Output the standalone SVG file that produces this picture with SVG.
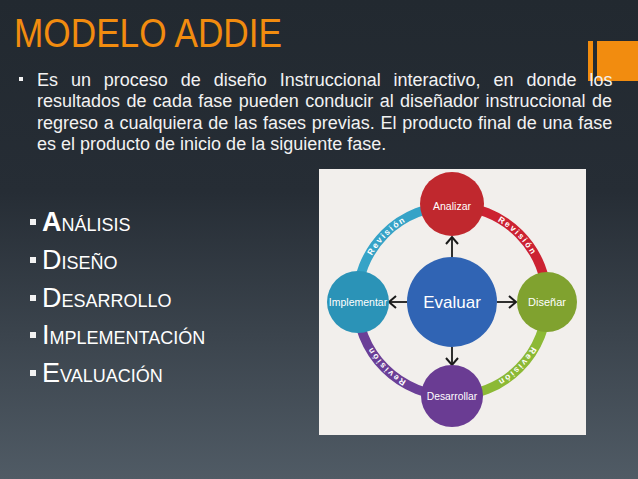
<svg xmlns="http://www.w3.org/2000/svg" width="638" height="479" viewBox="0 0 638 479">
<defs>
<linearGradient id="bg" x1="0" y1="0" x2="0" y2="1">
<stop offset="0" stop-color="#222930"/>
<stop offset="0.4" stop-color="#262d35"/>
<stop offset="1" stop-color="#505b65"/>
</linearGradient>
<marker id="chev" markerUnits="userSpaceOnUse" markerWidth="12" markerHeight="14" refX="8" refY="7" orient="auto">
<path d="M1,1 L8,7 L1,13" fill="none" stroke="#1a1a1a" stroke-width="2"/>
</marker>
<path id="ring" d="M357,301 A95,95 0 1 1 547,301 A95,95 0 1 1 357,301"/>
</defs>
<style>
.title{font-family:"Liberation Sans",Arial,sans-serif;font-size:41px;fill:#f28c0f}
.para{font-family:"Liberation Sans",Arial,sans-serif;font-size:18px;fill:#f2f2f2}
.item{font-family:"Liberation Sans",Arial,sans-serif;fill:#ffffff}
.big{font-size:27px}
.sm{font-size:18px}
.bul{fill:#f2f2f2}
.arc{fill:none;stroke-width:9.5}
.rev{font-family:"Liberation Sans",Arial,sans-serif;font-size:8.5px;font-weight:bold;fill:#ffffff;letter-spacing:2px}
.lbl{font-family:"Liberation Sans",Arial,sans-serif;font-size:10.5px;fill:#ffffff;text-anchor:middle}
.conn{stroke:#1a1a1a;stroke-width:1.8;fill:none;marker-end:url(#chev)}
</style>
<rect x="0" y="0" width="638" height="479" fill="url(#bg)"/>
<text class="title" x="14" y="47" textLength="268" lengthAdjust="spacingAndGlyphs">MODELO ADDIE</text>
<rect x="588" y="41" width="5" height="40" fill="#f28c0f"/>
<rect x="597" y="41" width="41" height="40" fill="#f28c0f"/>
<rect x="19" y="77" width="4" height="4" class="bul"/>
<text class="para" x="37" y="86" word-spacing="7.9">Es un proceso de diseño Instruccional interactivo, en donde los</text>
<text class="para" x="37" y="107" word-spacing="1.4">resultados de cada fase pueden conducir al diseñador instruccional de</text>
<text class="para" x="37" y="129" word-spacing="0.75">regreso a cualquiera de las fases previas. El producto final de una fase</text>
<text class="para" x="37" y="150">es el producto de inicio de la siguiente fase.</text>
<g id="list">
<rect x="30" y="219" width="6" height="6" class="bul"/>
<text class="item" x="42" y="231"><tspan class="big" font-weight="bold">A</tspan><tspan class="sm">NÁLISIS</tspan></text>
<rect x="30" y="257" width="6" height="6" class="bul"/>
<text class="item" x="42" y="269"><tspan class="big">D</tspan><tspan class="sm">ISEÑO</tspan></text>
<rect x="30" y="295" width="6" height="6" class="bul"/>
<text class="item" x="42" y="307"><tspan class="big">D</tspan><tspan class="sm">ESARROLLO</tspan></text>
<rect x="30" y="332" width="6" height="6" class="bul"/>
<text class="item" x="42" y="344"><tspan class="big">I</tspan><tspan class="sm">MPLEMENTACIÓN</tspan></text>
<rect x="30" y="370" width="6" height="6" class="bul"/>
<text class="item" x="42" y="382"><tspan class="big">E</tspan><tspan class="sm">VALUACIÓN</tspan></text>
</g>
<rect x="319" y="169" width="267" height="266" fill="#f2efec"/>
<g id="ring-arcs">
<path class="arc" stroke="#36a3c7" d="M357,301 A95,95 0 0 1 452,206"/>
<path class="arc" stroke="#cc2232" d="M452,206 A95,95 0 0 1 547,301"/>
<path class="arc" stroke="#8cb935" d="M547,301 A95,95 0 0 1 452,396"/>
<path class="arc" stroke="#6b3f97" d="M452,396 A95,95 0 0 1 357,301"/>
<text class="rev" dy="3"><textPath href="#ring" startOffset="74.6" text-anchor="middle">Revisión</textPath></text>
<text class="rev" dy="3"><textPath href="#ring" startOffset="223.8" text-anchor="middle">Revisión</textPath></text>
<text class="rev" dy="3"><textPath href="#ring" startOffset="373" text-anchor="middle">Revisión</textPath></text>
<text class="rev" dy="3"><textPath href="#ring" startOffset="522.2" text-anchor="middle">Revisión</textPath></text>
</g>
<g id="connectors">
<line class="conn" x1="452" y1="257" x2="452" y2="237"/>
<line class="conn" x1="407" y1="302" x2="389" y2="302"/>
<line class="conn" x1="497" y1="302" x2="516" y2="302"/>
<line class="conn" x1="452" y1="347" x2="452" y2="365"/>
</g>
<g id="analizar">
<circle cx="452" cy="204" r="32" fill="#c0282e"/>
<text class="lbl" x="452" y="210">Analizar</text>
</g>
<g id="implementar">
<circle cx="358" cy="302" r="31" fill="#2b93b7"/>
<text class="lbl" x="358" y="306" font-size="10">Implementar</text>
</g>
<g id="evaluar">
<circle cx="452" cy="302" r="45" fill="#3064b4"/>
<text class="lbl" x="452" y="308" style="font-size:17px">Evaluar</text>
</g>
<g id="disenar">
<circle cx="547" cy="302" r="30" fill="#80a22f"/>
<text class="lbl" x="547" y="306" style="font-size:11px">Diseñar</text>
</g>
<g id="desarrollar">
<circle cx="452" cy="396" r="31" fill="#6a3c93"/>
<text class="lbl" x="452" y="400" style="font-size:10.3px">Desarrollar</text>
</g>
</svg>
